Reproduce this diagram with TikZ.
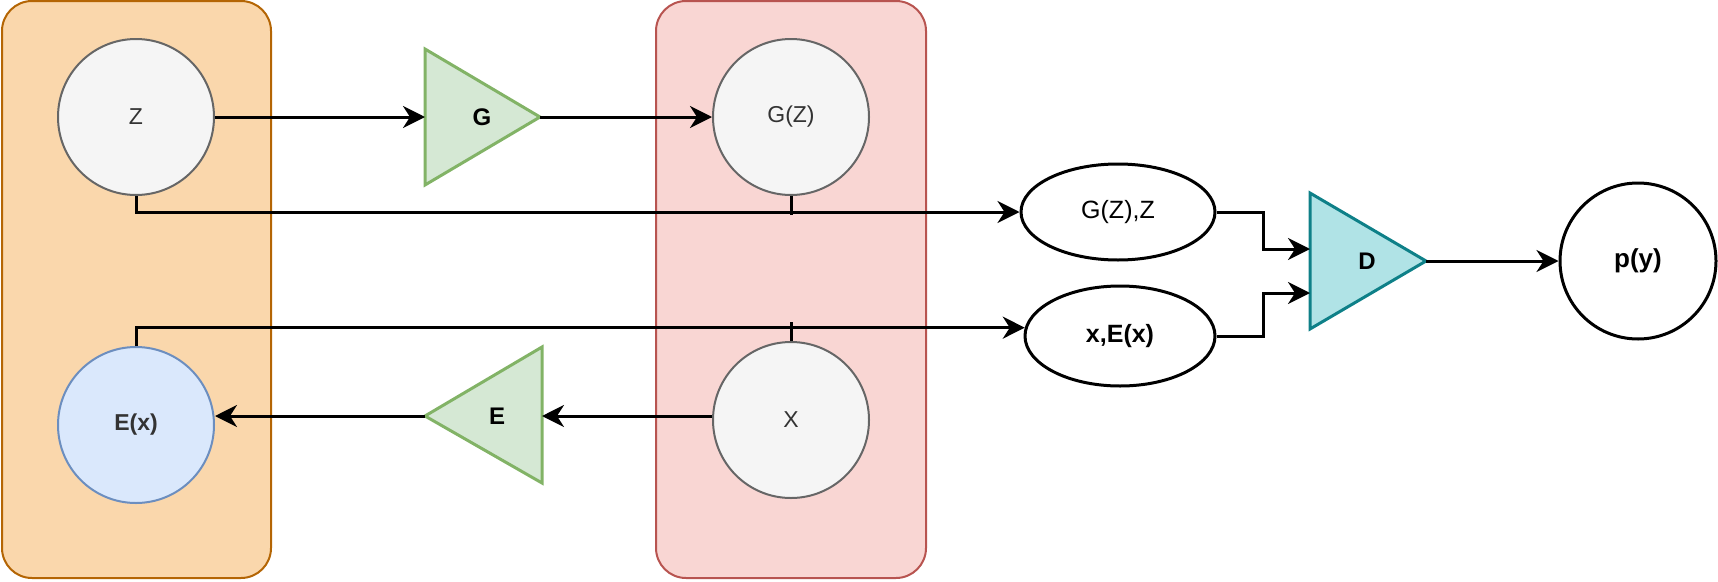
\documentclass[tikz,border=0pt]{standalone}
\usepackage{fontspec}
\setmainfont{Liberation Sans}
\usetikzlibrary{arrows.meta,calc,shapes.geometric}
\definecolor{orfill}{HTML}{FAD7AC}
\definecolor{ordraw}{HTML}{B46504}
\definecolor{pkfill}{HTML}{F9D6D3}
\definecolor{pkdraw}{HTML}{B85450}
\definecolor{gyfill}{HTML}{F5F5F5}
\definecolor{gydraw}{HTML}{666666}
\definecolor{blfill}{HTML}{DAE8FC}
\definecolor{bldraw}{HTML}{6C8EBF}
\definecolor{grfill}{HTML}{D5E8D4}
\definecolor{grdraw}{HTML}{82B366}
\definecolor{tlfill}{HTML}{B0E3E6}
\definecolor{tldraw}{HTML}{0E8088}
\definecolor{txt}{HTML}{333333}
\tikzset{
  lbl/.style={font=\fontsize{23}{27}\selectfont, text=txt},
  ellfont/.style={font=\fontsize{25}{29}\selectfont},
  trifont/.style={font=\fontsize{24}{28}\selectfont\bfseries, text=black},
  panel/.style={line width=2pt, rounded corners=30pt},
  circnode/.style={circle, minimum size=156pt, inner sep=0pt, line width=2pt, lbl},
  greycirc/.style={circnode, draw=gydraw, fill=gyfill},
  ellnode/.style={ellipse, draw=black, line width=3pt, inner sep=0pt, text=black, ellfont},
  tri/.style={line width=3pt, line join=miter},
  wire/.style={line width=3pt, draw=black},
  arr/.style={wire, -{Stealth[length=22pt,width=22pt,inset=7pt]}},
}
\begin{document}
\begin{tikzpicture}[x=1pt,y=-1pt]
\useasboundingbox (0,0) rectangle (1718,581);
% panels
\draw[panel, draw=ordraw, fill=orfill] (2,1) rectangle (271,578);
\draw[panel, draw=pkdraw, fill=pkfill] (656,1) rectangle (926,578);
% circles
\node[greycirc] (z) at (136,117) {Z};
\node[greycirc] (gz) at (791,117) {G(Z)};
\node[greycirc] (xx) at (791,420) {X};
\node[circnode, draw=bldraw, fill=blfill, font=\fontsize{23}{27}\selectfont\bfseries] (ex) at (136,425) {E(x)};
% ellipses
\node[ellnode, minimum width=194pt, minimum height=96pt] (gzz) at (1118,212) {G(Z),Z};
\node[ellnode, minimum width=190pt, minimum height=100pt, font=\fontsize{25}{29}\selectfont\bfseries] (xe) at (1120,336) {x,E(x)};
\node[ellnode, circle, minimum size=156pt, font=\fontsize{26}{30}\selectfont\bfseries] (py) at (1638,261) {p(y)};
% triangles
\coordinate (Gin) at (425,117);
\coordinate (Gout) at (540,117);
\draw[tri, draw=grdraw, fill=grfill] (425,49) -- (425,185) -- (Gout) -- cycle;
\node[trifont] (gl) at (482,117) {G};
\coordinate (Ein) at (542,416);
\coordinate (Eout) at (425,416);
\draw[tri, draw=grdraw, fill=grfill] (542,347) -- (542,483) -- (Eout) -- cycle;
\node[trifont] (el) at (497,416) {E};
\coordinate (Din1) at (1310,249);
\coordinate (Din2) at (1310,293);
\coordinate (Dout) at (1426,261);
\draw[tri, draw=tldraw, fill=tlfill] (1310,193) -- (1310,329) -- (Dout) -- cycle;
\node[trifont] (dl) at (1367,261) {D};
% connectors
\draw[arr] (z.east) -- (Gin);
\draw[arr] (Gout) -- (gz.west);
\draw[arr] (z.south) |- (gzz.west);
\draw[wire] (gz.south) -- ++(0,19);
\draw[arr] (ex.north) |- (xe.175);
\draw[wire] (xx.north) -- ++(0,-19);
\draw[arr] (xx.west |- Ein) -- (Ein);
\draw[arr] (Eout) -- (Eout -| ex.east);
\draw[arr] (gzz.east) -- ++(47,0) |- (Din1);
\draw[arr] (xe.east) -- ++(47,0) |- (Din2);
\draw[arr] (Dout) -- (py.west);
\end{tikzpicture}
\end{document}
